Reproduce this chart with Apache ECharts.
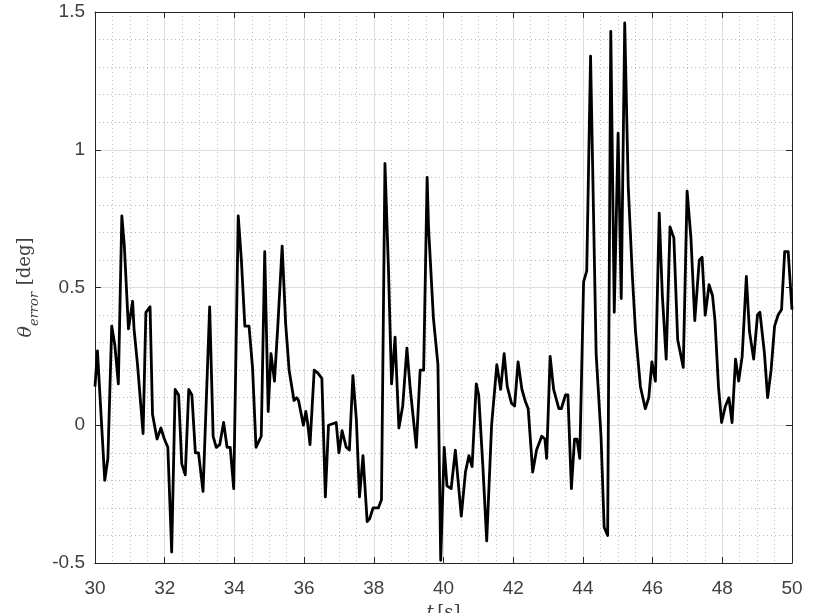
<!DOCTYPE html>
<html>
<head>
<meta charset="utf-8">
<script src="https://cdn.jsdelivr.net/npm/echarts@6/dist/echarts.min.js"></script>
<style>html,body{margin:0;padding:0;background:#fff}#c{width:814px;height:613px}</style>
</head>
<body>
<div id="c"></div>
<script>
const timeS = [30.00,30.07,30.28,30.37,30.48,30.57,30.67,30.77,30.84,30.96,31.08,31.12,31.22,31.38,31.46,31.58,31.65,31.78,31.89,31.99,32.09,32.20,32.30,32.40,32.49,32.59,32.69,32.78,32.88,32.97,33.10,33.29,33.39,33.48,33.58,33.69,33.79,33.88,33.98,34.11,34.20,34.30,34.42,34.52,34.62,34.77,34.87,34.97,35.05,35.15,35.25,35.37,35.47,35.57,35.71,35.79,35.84,35.98,36.05,36.10,36.17,36.29,36.39,36.51,36.61,36.70,36.92,37.00,37.09,37.21,37.30,37.40,37.50,37.59,37.69,37.81,37.88,37.98,38.13,38.22,38.32,38.42,38.51,38.61,38.72,38.83,38.95,39.04,39.22,39.33,39.43,39.53,39.57,39.71,39.84,39.92,40.02,40.10,40.22,40.34,40.51,40.63,40.73,40.82,40.94,41.01,41.13,41.24,41.38,41.53,41.64,41.74,41.83,41.95,42.04,42.14,42.25,42.34,42.43,42.56,42.67,42.82,42.91,42.96,43.06,43.16,43.31,43.38,43.50,43.57,43.67,43.76,43.83,43.91,44.02,44.11,44.22,44.38,44.52,44.61,44.71,44.80,44.90,45.01,45.10,45.20,45.30,45.42,45.51,45.65,45.79,45.89,45.98,46.08,46.19,46.28,46.39,46.50,46.61,46.72,46.88,46.99,47.10,47.21,47.34,47.42,47.51,47.62,47.72,47.79,47.89,47.98,48.09,48.19,48.28,48.38,48.47,48.57,48.69,48.78,48.90,49.01,49.08,49.21,49.30,49.40,49.50,49.60,49.70,49.79,49.89,50.00];
const thetaError = [0.14,0.27,-0.20,-0.12,0.36,0.29,0.15,0.76,0.655,0.35,0.45,0.35,0.22,-0.03,0.41,0.43,0.04,-0.05,-0.01,-0.05,-0.08,-0.46,0.13,0.11,-0.14,-0.18,0.13,0.11,-0.10,-0.10,-0.24,0.43,-0.04,-0.08,-0.07,0.01,-0.08,-0.08,-0.23,0.76,0.60,0.36,0.36,0.21,-0.08,-0.04,0.63,0.05,0.26,0.16,0.37,0.65,0.37,0.20,0.09,0.10,0.09,0.00,0.05,0.01,-0.07,0.20,0.19,0.17,-0.26,0.00,0.01,-0.10,-0.02,-0.08,-0.09,0.18,0.02,-0.26,-0.11,-0.35,-0.34,-0.30,-0.30,-0.27,0.95,0.57,0.15,0.32,-0.01,0.07,0.28,0.14,-0.08,0.20,0.20,0.90,0.72,0.39,0.22,-0.49,-0.08,-0.22,-0.23,-0.09,-0.33,-0.17,-0.11,-0.15,0.15,0.11,-0.15,-0.42,0.00,0.22,0.13,0.26,0.14,0.08,0.07,0.23,0.13,0.09,0.06,-0.17,-0.09,-0.04,-0.05,-0.12,0.25,0.13,0.06,0.06,0.11,0.11,-0.23,-0.05,-0.05,-0.12,0.52,0.56,1.34,0.26,-0.04,-0.37,-0.40,1.43,0.41,1.06,0.46,1.46,0.87,0.54,0.34,0.14,0.06,0.10,0.23,0.16,0.77,0.47,0.24,0.72,0.68,0.31,0.21,0.85,0.68,0.38,0.60,0.61,0.40,0.51,0.47,0.38,0.14,0.01,0.07,0.10,0.01,0.24,0.16,0.25,0.54,0.34,0.24,0.40,0.41,0.26,0.10,0.20,0.36,0.40,0.42,0.63,0.63,0.42];
const xTicks = [30,32,34,36,38,40,42,44,46,48,50];
const yTicks = [-0.5,0,0.5,1,1.5];

const axisColor = '#262626';
const labelFont = 'Liberation Sans';
const textColor = '#404040';
const chart = echarts.init(document.getElementById('c'), null, {renderer: 'canvas'});
const data = timeS.map((t, i) => [t, thetaError[i]]);

const common = {
  axisLine: {show: true, onZero: false, lineStyle: {color: axisColor, width: 1}},
  axisTick: {show: true, inside: true, length: 6, lineStyle: {color: axisColor}},
  splitLine: {show: false},
  minorSplitLine: {show: false}
};

chart.setOption({
  animation: false,
  backgroundColor: '#fff',
  grid: {left: 95, right: 22, top: 12, bottom: 50, containLabel: false, outerBoundsMode: 'none'},
  xAxis: [{
    type: 'value', min: xTicks[0], max: xTicks[xTicks.length - 1], interval: 2,
    position: 'bottom',
    axisLine: {show: true, onZero: false, lineStyle: {color: axisColor, width: 1}},
    axisTick: {show: true, inside: true, length: 6, lineStyle: {color: axisColor}},
    axisLabel: {color: textColor, fontFamily: labelFont, fontSize: 19, margin: 16},
    splitLine: {show: true, lineStyle: {color: '#dedede', width: 1}},
    minorTick: {show: false, splitNumber: 4},
    minorSplitLine: {show: true, lineStyle: {color: '#bdbdbd', width: 1, type: [1, 3]}},
    name: '{i|t} {n|[s]}', nameLocation: 'middle', nameGap: 41,
    nameTextStyle: {rich: {
      i: {fontFamily: 'DejaVu Serif', fontStyle: 'italic', fontSize: 18, color: textColor},
      n: {fontFamily: 'DejaVu Serif', fontSize: 18, color: textColor}
    }}
  }, Object.assign({
    type: 'value', min: xTicks[0], max: xTicks[xTicks.length - 1], interval: 2,
    position: 'top', axisLabel: {show: false}
  }, common)],
  yAxis: [{
    type: 'value', min: yTicks[0], max: yTicks[yTicks.length - 1], interval: 0.5,
    position: 'left',
    axisLine: {show: true, onZero: false, lineStyle: {color: axisColor, width: 1}},
    axisTick: {show: true, inside: true, length: 6, lineStyle: {color: axisColor}},
    axisLabel: {color: textColor, fontFamily: labelFont, fontSize: 19, margin: 10},
    splitLine: {show: true, lineStyle: {color: '#dedede', width: 1}},
    minorTick: {show: false, splitNumber: 5},
    minorSplitLine: {show: true, lineStyle: {color: '#bdbdbd', width: 1, type: [1, 3]}},
    name: '{a|θ}{b|error}  {c|[deg]}', nameLocation: 'middle', nameGap: 53, nameRotate: 90,
    nameTextStyle: {rich: {
      a: {fontFamily: 'DejaVu Serif', fontStyle: 'italic', fontSize: 19, color: textColor, verticalAlign: 'top'},
      b: {fontFamily: 'DejaVu Serif', fontStyle: 'italic', fontSize: 13, color: textColor, verticalAlign: 'bottom', padding: [12, 0, 0, 0]},
      c: {fontFamily: 'DejaVu Serif', fontSize: 18, color: textColor, verticalAlign: 'top'}
    }}
  }, Object.assign({
    type: 'value', min: yTicks[0], max: yTicks[yTicks.length - 1], interval: 0.5,
    position: 'right', axisLabel: {show: false}
  }, common)],
  series: [{
    type: 'line', xAxisIndex: 0, yAxisIndex: 0, data: data,
    showSymbol: false, symbol: 'none',
    lineStyle: {color: '#000', width: 2.8, join: 'round'},
    z: 5
  }]
});
</script>
</body>
</html>
